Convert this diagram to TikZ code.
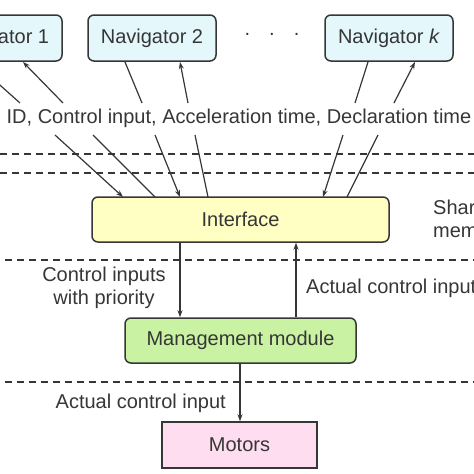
\documentclass[tikz,border=0pt]{standalone}
\usepackage{fontspec}
\setmainfont{Liberation Sans}
\usetikzlibrary{arrows.meta}
\definecolor{inkgray}{HTML}{363636}
\definecolor{navfill}{HTML}{E4F8FC}
\definecolor{ifacefill}{HTML}{FFFFC4}
\definecolor{mgmtfill}{HTML}{C9F2A2}
\definecolor{motorfill}{HTML}{FDDDEF}
\tikzset{
  box/.style={draw=inkgray, line width=1.5pt, text=inkgray, inner sep=0pt},
  navbox/.style={box, fill=navfill, rounded corners=6pt, minimum width=128pt, minimum height=46pt},
  ifacebox/.style={box, fill=ifacefill, rounded corners=6pt, minimum width=297pt, minimum height=45pt},
  mgmtbox/.style={box, fill=mgmtfill, rounded corners=6pt, minimum width=231pt, minimum height=45pt},
  motorbox/.style={box, fill=motorfill, minimum width=155pt, minimum height=46pt},
  lbl/.style={text=inkgray, inner sep=0pt},
  divider/.style={draw=inkgray, line width=1.3pt, dash pattern=on 7pt off 5pt},
  flow/.style={draw=inkgray, line width=1.2pt, -{Stealth[length=7pt,width=5pt]}},
  wire/.style={draw=inkgray, line width=1.2pt}
}
\begin{document}
\begin{tikzpicture}[x=1pt,y=-1pt,font=\fontsize{20}{24}\selectfont]
  \useasboundingbox (0,0) rectangle (474,474);
  \clip (0,0) rectangle (474,474);
  \draw[divider] (0,154) -- (474,154);
  \draw[divider] (0,173) -- (474,173);
  \draw[divider] (5,260) -- (474,260);
  \draw[divider] (5,382) -- (474,382);
  \draw
    (-2,38) node[navbox] (nav1){Navigator 1}
    (152,38) node[navbox] (nav2){Navigator 2}
    (389,38) node[navbox] (navk){Navigator \textit{k}}
    (272,34) node[lbl] (dots){.\hspace{19pt}.\hspace{19pt}.}
    (239,118) node[lbl] (fields){ID, Control input, Acceleration time, Declaration time}
    (240.5,219.5) node[ifacebox] (iface){Interface}
    (433,221) node[lbl, anchor=west, align=left] (shm){Shared\\[-1pt]memory}
    (104,288) node[lbl, align=center] (prio){Control inputs\\[-1pt]with priority}
    (306,288) node[lbl, anchor=west] (actup){Actual control input}
    (240.5,340.5) node[mgmtbox] (mgmt){Management module}
    (226,403) node[lbl, anchor=east] (actdown){Actual control input}
    (239.5,445) node[motorbox] (motors){Motors};
  \coordinate (n1out) at (-27,61);
  \coordinate (n1outt) at (20,103);
  \coordinate (n1outb) at (55,135);
  \coordinate (n1inb) at (93,135);
  \coordinate (n1int) at (63,103);
  \coordinate (n1in) at (23,62);
  \coordinate (n2out) at (125,62);
  \coordinate (n2outt) at (142,103);
  \coordinate (n2outb) at (155,135);
  \coordinate (n2inb) at (195,135);
  \coordinate (n2int) at (188,103);
  \coordinate (n2in) at (180,62);
  \coordinate (nkout) at (368,62);
  \coordinate (nkoutt) at (355,103);
  \coordinate (nkoutb) at (343,135);
  \coordinate (nkinb) at (378,135);
  \coordinate (nkint) at (394,103);
  \coordinate (nkin) at (415,62);
  \coordinate (i1in) at (123,197);
  \coordinate (i1out) at (155,197);
  \coordinate (i2in) at (180,197);
  \coordinate (i2out) at (208,197);
  \coordinate (ikin) at (323,197);
  \coordinate (ikout) at (347,197);
  \begin{scope}
    \draw[wire] (n1out) to (n1outt);
    \draw[flow] (n1outb) to (i1in);
    \draw[wire] (i1out) to (n1inb);
    \draw[flow] (n1int) to (n1in);
    \draw[wire] (n2out) to (n2outt);
    \draw[flow] (n2outb) to (i2in);
    \draw[wire] (i2out) to (n2inb);
    \draw[flow] (n2int) to (n2in);
    \draw[wire] (nkout) to (nkoutt);
    \draw[flow] (nkoutb) to (ikin);
    \draw[wire] (ikout) to (nkinb);
    \draw[flow] (nkint) to (nkin);
    \draw[flow] (iface.south -| 180,0) to (mgmt.north -| 180,0);
    \draw[flow] (mgmt.north -| 296,0) to (iface.south -| 296,0);
    \draw[flow] (mgmt.south -| 240,0) to (motors.north -| 240,0);
  \end{scope}
\end{tikzpicture}
\end{document}
